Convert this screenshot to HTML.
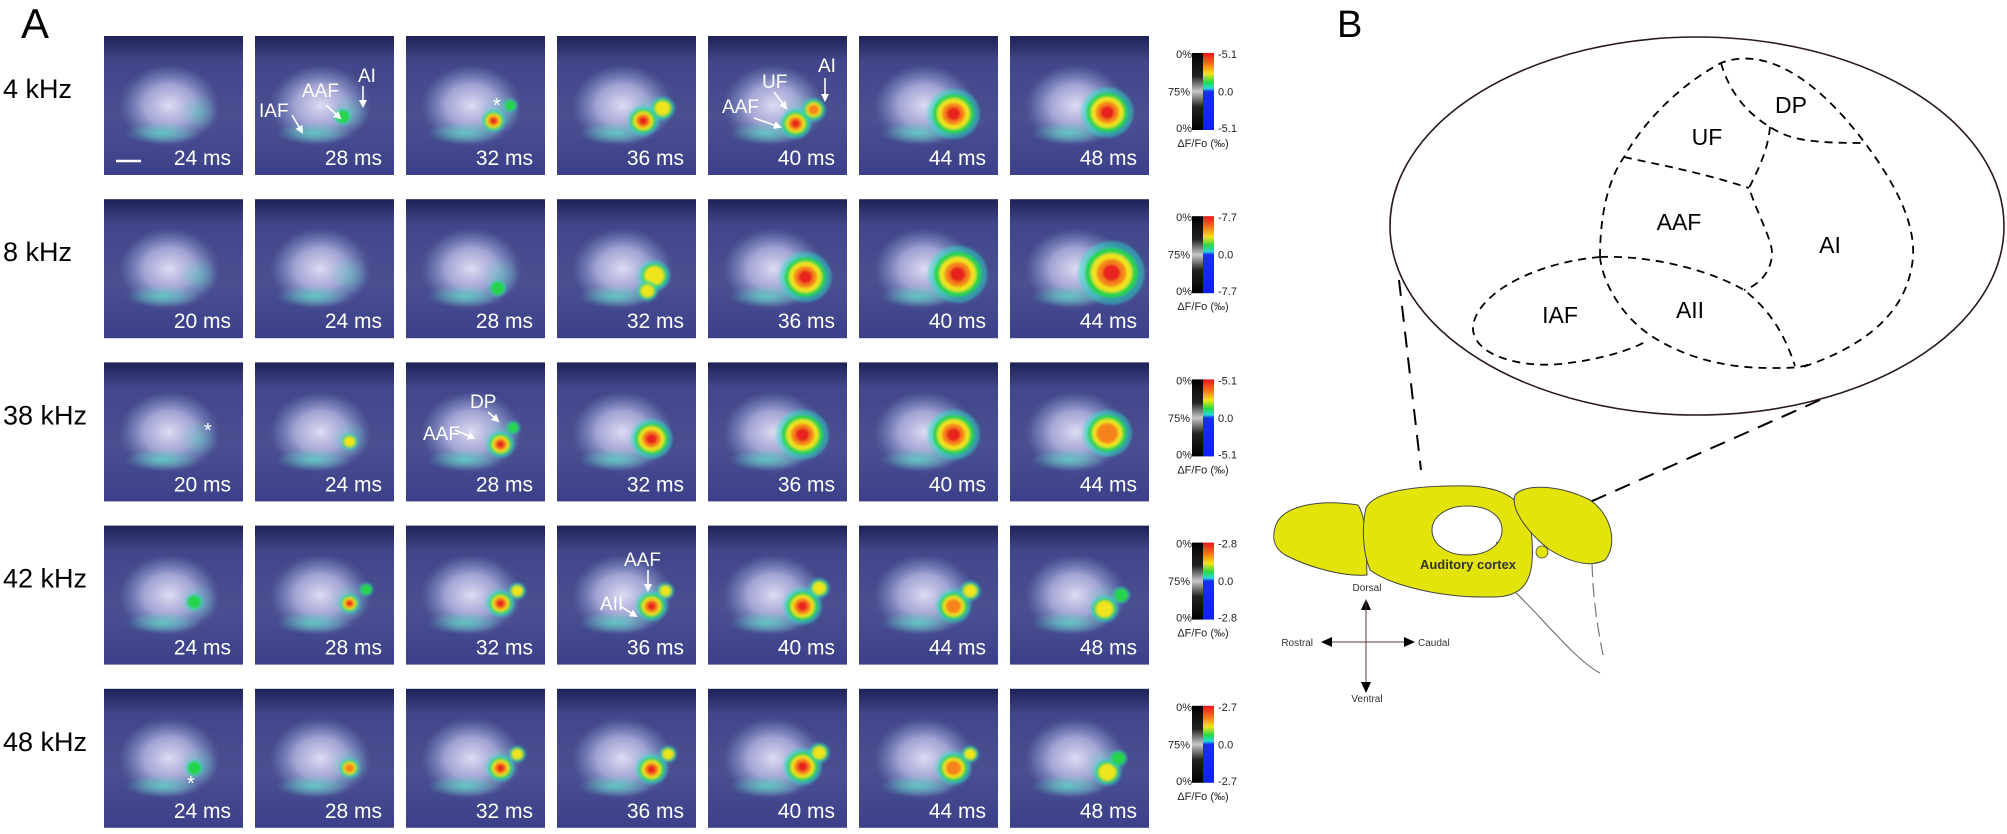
<!DOCTYPE html>
<html><head><meta charset="utf-8">
<style>
html,body{margin:0;padding:0;background:#fff;}
svg{display:block;font-family:"Liberation Sans","DejaVu Sans",sans-serif;}
</style></head>
<body>
<svg id="fig" width="2007" height="834" viewBox="0 0 2007 834" xmlns="http://www.w3.org/2000/svg">
<defs>
  <linearGradient id="tileBg" x1="0" y1="0" x2="0" y2="1">
    <stop offset="0" stop-color="#1d2256"/>
    <stop offset="0.18" stop-color="#41468a"/>
    <stop offset="0.6" stop-color="#4a4f92"/>
    <stop offset="1" stop-color="#3c4089"/>
  </linearGradient>
  <radialGradient id="glow" cx="0.5" cy="0.5" r="0.5">
    <stop offset="0" stop-color="#e6e4f8" stop-opacity="0.95"/>
    <stop offset="0.5" stop-color="#c0c0ea" stop-opacity="0.75"/>
    <stop offset="0.8" stop-color="#8fa0d0" stop-opacity="0.35"/>
    <stop offset="1" stop-color="#6a6fb0" stop-opacity="0"/>
  </radialGradient>
  <radialGradient id="cyanGlow" cx="0.5" cy="0.5" r="0.5">
    <stop offset="0" stop-color="#5fd6c6" stop-opacity="0.8"/>
    <stop offset="1" stop-color="#5fd6c6" stop-opacity="0"/>
  </radialGradient>
  <filter id="soft" x="-50%" y="-50%" width="200%" height="200%"><feGaussianBlur stdDeviation="1.3"/></filter>
  <linearGradient id="cbGray" x1="0" y1="0" x2="0" y2="1">
    <stop offset="0" stop-color="#000"/><stop offset="0.3" stop-color="#222"/>
    <stop offset="0.5" stop-color="#c8c8c8"/><stop offset="0.7" stop-color="#222"/><stop offset="1" stop-color="#000"/>
  </linearGradient>
  <linearGradient id="cbColor" x1="0" y1="0" x2="0" y2="1">
    <stop offset="0" stop-color="#e8141c"/><stop offset="0.15" stop-color="#f47a1c"/>
    <stop offset="0.27" stop-color="#f5e41c"/><stop offset="0.38" stop-color="#28d848"/>
    <stop offset="0.46" stop-color="#2ad8d8"/><stop offset="0.5" stop-color="#1830f0"/>
    <stop offset="1" stop-color="#1020f0"/>
  </linearGradient>
  <marker id="arrW" markerWidth="8" markerHeight="8" refX="6" refY="4" orient="auto" markerUnits="userSpaceOnUse">
    <path d="M0,0 L8,4 L0,8 Z" fill="#fff"/>
  </marker>
  <marker id="arrK" markerWidth="12" markerHeight="12" refX="10" refY="6" orient="auto" markerUnits="userSpaceOnUse">
    <path d="M0,1 L11,6 L0,11 Z" fill="#000"/>
  </marker>
</defs>

<text x="21" y="38" font-size="42" fill="#000">A</text>
<text x="1337" y="37" font-size="38" fill="#000">B</text>

<g id="tiles"></g>
<g id="bars"></g>

<g fill="none" stroke="#000">
  <ellipse cx="1697" cy="226" rx="307" ry="189" stroke="#2a1a1a" stroke-width="1.6"/>
  <g stroke-dasharray="8,6" stroke-width="1.8">
    <path d="M1600,257 C1600,215 1608,180 1624,157 C1645,120 1680,85 1721,63 C1760,48 1810,70 1865,143 C1900,190 1918,230 1912,265 C1905,310 1870,345 1800,368"/>
    <path d="M1721,63 C1730,95 1750,115 1770,127 C1790,140 1810,143 1865,143"/>
    <path d="M1770,127 C1768,150 1758,170 1749,188 C1758,215 1772,240 1772,253 C1772,270 1760,285 1744,290"/>
    <path d="M1624,157 C1660,165 1700,172 1749,188"/>
    <path d="M1600,257 C1602,280 1620,315 1650,335 C1680,355 1720,368 1770,368 C1790,368 1800,368 1810,364"/>
    <path d="M1600,257 C1650,255 1710,270 1744,290 C1770,310 1785,335 1795,366"/>
    <path d="M1600,257 C1540,262 1480,290 1473,325 C1470,355 1520,368 1560,364 C1600,360 1630,350 1645,342"/>
  </g>
  <g stroke-dasharray="16,10" stroke-width="2">
    <path d="M1399,280 L1421,470"/>
    <path d="M1820,400 L1493,545"/>
  </g>
  <g fill="#000" stroke="none" font-size="23">
    <text x="1791" y="113" text-anchor="middle">DP</text>
    <text x="1707" y="145" text-anchor="middle">UF</text>
    <text x="1679" y="230" text-anchor="middle">AAF</text>
    <text x="1830" y="253" text-anchor="middle">AI</text>
    <text x="1560" y="323" text-anchor="middle">IAF</text>
    <text x="1690" y="318" text-anchor="middle">AII</text>
  </g>
</g>

<g>
  <path d="M1275,528 C1280,505 1320,499 1358,505 C1368,520 1366,555 1367,575 C1345,577 1310,568 1285,555 C1274,548 1272,538 1275,528 Z" fill="#e2e40a" stroke="#444" stroke-width="1"/>
  <path d="M1366,508 C1375,490 1420,485 1470,486 C1510,488 1530,505 1532,540 C1535,580 1525,598 1490,597 C1440,598 1390,585 1370,570 C1362,550 1362,525 1366,508 Z M1467,506 C1445,506 1432,518 1432,530 C1432,545 1448,555 1467,555 C1490,555 1502,543 1502,530 C1502,517 1490,506 1467,506 Z" fill="#e2e40a" fill-rule="evenodd" stroke="#444" stroke-width="1"/>
  <path d="M1515,495 C1525,483 1560,485 1590,500 C1612,515 1618,545 1605,560 C1590,568 1570,562 1550,550 C1530,535 1510,510 1515,495 Z" fill="#e2e40a" stroke="#444" stroke-width="1"/>
  <ellipse cx="1542" cy="552" rx="6" ry="6" fill="#e2e40a" stroke="#444" stroke-width="0.8"/>
  <path d="M1515,592 C1540,615 1575,660 1600,673" fill="none" stroke="#777" stroke-width="1.2"/>
  <path d="M1592,563 C1593,600 1598,630 1603,655" fill="none" stroke="#777" stroke-width="1.2" stroke-dasharray="14,6"/>
  <text x="1468" y="569" text-anchor="middle" font-size="13" font-weight="bold" fill="#333">Auditory cortex</text>
  <g stroke="#5a3a3a" stroke-width="1" fill="none">
    <path d="M1366,690 L1366,600" marker-end="url(#arrK)"/>
    <path d="M1366,600 L1366,692" marker-end="url(#arrK)"/>
    <path d="M1366,642 L1322,642" marker-end="url(#arrK)"/>
    <path d="M1366,642 L1414,642" marker-end="url(#arrK)"/>
  </g>
  <g font-size="10" fill="#333">
    <text x="1367" y="591" text-anchor="middle">Dorsal</text>
    <text x="1313" y="646" text-anchor="end">Rostral</text>
    <text x="1418" y="646">Caudal</text>
    <text x="1367" y="702" text-anchor="middle">Ventral</text>
  </g>
</g>

<script>
const rowLabels = ["4 kHz","8 kHz","38 kHz","42 kHz","48 kHz"];
const rowTimes = [
  [24,28,32,36,40,44,48],
  [20,24,28,32,36,40,44],
  [20,24,28,32,36,40,44],
  [24,28,32,36,40,44,48],
  [24,28,32,36,40,44,48]
];
const barMax = ["5.1","7.7","5.1","2.8","2.7"];
// blobs per tile: [x-frac, y-frac, radius-frac, level 1=green 2=yellow 3=orange 4=red]
const blobs4k = [[],[[0.63,0.58,0.05,1]],[[0.63,0.61,0.07,4],[0.75,0.5,0.04,1]],[[0.62,0.61,0.09,4],[0.76,0.52,0.07,2]],[[0.63,0.63,0.09,4],[0.76,0.53,0.07,3]],[[0.68,0.56,0.15,4]],[[0.7,0.55,0.15,4]]];
const blobs8k = [[],[],[[0.66,0.64,0.05,1]],[[0.7,0.55,0.09,2],[0.65,0.66,0.06,2]],[[0.7,0.56,0.15,4]],[[0.71,0.54,0.17,4]],[[0.73,0.53,0.19,4]]];
const blobs38k = [[],[[0.68,0.57,0.05,2]],[[0.68,0.59,0.08,4],[0.77,0.47,0.04,1]],[[0.68,0.55,0.12,4]],[[0.68,0.52,0.15,4]],[[0.68,0.52,0.15,4]],[[0.7,0.51,0.14,3]]];
const blobs42k = [[[0.65,0.55,0.05,1]],[[0.68,0.56,0.06,4],[0.8,0.46,0.04,1]],[[0.68,0.56,0.08,4],[0.8,0.47,0.05,2]],[[0.68,0.58,0.09,4],[0.78,0.47,0.05,2]],[[0.68,0.58,0.11,4],[0.8,0.45,0.06,2]],[[0.68,0.58,0.1,3],[0.8,0.47,0.06,2]],[[0.68,0.6,0.08,2],[0.8,0.5,0.05,1]]];
const blobs48k = [[[0.65,0.57,0.05,1]],[[0.68,0.57,0.06,3]],[[0.68,0.57,0.08,4],[0.8,0.47,0.05,2]],[[0.68,0.58,0.09,4],[0.8,0.47,0.05,2]],[[0.68,0.56,0.11,4],[0.8,0.46,0.06,2]],[[0.68,0.57,0.1,3],[0.8,0.47,0.05,2]],[[0.7,0.6,0.08,2],[0.78,0.5,0.05,1]]];
const allBlobs = [blobs4k, blobs8k, blobs38k, blobs42k, blobs48k];

const NS = "http://www.w3.org/2000/svg";
const colX = c => 104 + c * 151;
const rowY = r => 36 + r * 163.2;
const TS = 139;
function mk(tag, attrs, parent){ const e=document.createElementNS(NS,tag); for(const k in attrs) e.setAttribute(k,attrs[k]); parent.appendChild(e); return e; }

const tilesG = document.getElementById('tiles');
const levelCols = ["#2ee0c8","#26d44a","#f0e41e","#f5821e","#e8201c"];
rowLabels.forEach((lab, r) => {
  const t = mk('text',{x:3,y:rowY(r)+62,'font-size':27,fill:'#000'},tilesG);
  t.textContent = lab;
  
  
  rowTimes[r].forEach((ms, c) => {
    const x = colX(c), y = rowY(r);
    const g = mk('g',{},tilesG);
    
    
    mk('rect',{x:x,y:y,width:TS,height:TS,fill:'url(#tileBg)'},g);
    mk('ellipse',{cx:x+TS*0.47,cy:y+TS*0.5,rx:TS*0.37,ry:TS*0.3,fill:'url(#glow)'},g);
    mk('ellipse',{cx:x+TS*0.42,cy:y+TS*0.7,rx:TS*0.27,ry:TS*0.08,fill:'url(#cyanGlow)'},g);
    mk('ellipse',{cx:x+TS*0.68,cy:y+TS*0.55,rx:TS*0.14,ry:TS*0.14,fill:'url(#cyanGlow)',opacity:0.6},g);
    allBlobs[r][c].forEach(b => {
      const bx = x + b[0]*TS, by = y + b[1]*TS, br = b[2]*TS;
      const bg = mk('g',{filter:'url(#soft)'},g);
      
      
      mk('ellipse',{cx:bx,cy:by,rx:br*1.25,ry:br*1.2,fill:levelCols[0],opacity:0.5},bg);
      for(let l=1;l<=b[3];l++){
        const f = 1 - (l-1)*0.22;
        mk('ellipse',{cx:bx,cy:by,rx:br*f,ry:br*f*0.95,fill:levelCols[l]},bg);
      }
    });
    const tt = mk('text',{x:x+TS-12,y:y+TS-10,'text-anchor':'end','font-size':21,fill:'#fff'},g);
    tt.textContent = ms + ' ms';
    
    
  });
});

const ann = document.createElementNS(NS,'g');


tilesG.appendChild(ann);
function lbl(txt,x,y,size){ const t=mk('text',{x:x,y:y,'font-size':size||19,fill:'#fff'},ann); t.textContent=txt;
  
   }
function arr(x1,y1,x2,y2){ mk('line',{x1:x1,y1:y1,x2:x2,y2:y2,stroke:'#fff','stroke-width':1.6,'marker-end':'url(#arrW)'},ann); }
mk('line',{x1:116,y1:161,x2:141,y2:161,stroke:'#fff','stroke-width':2.5},ann);
// row1 tile2
lbl('IAF',259,117); arr(292,115,302,132);
lbl('AAF',302,97); arr(326,105,340,118);
lbl('AI',358,82); arr(363,86,363,106);
// row1 tile3 asterisk
lbl('*',493,112,20);
// row1 tile5
lbl('AAF',722,113); arr(754,118,780,127);
lbl('UF',762,88); arr(774,92,786,108);
lbl('AI',818,72); arr(825,78,825,100);
// row3 tile1
lbl('*',204,437,20);
// row3 tile3
lbl('AAF',423,440); arr(455,430,474,438);
lbl('DP',470,408); arr(488,412,498,421);
// row4 tile4
lbl('AAF',624,566); arr(648,570,648,590);
lbl('AII',600,610); arr(620,606,636,616);
// row5 tile1
lbl('*',187,790,20);

const barsG = document.getElementById('bars');
barMax.forEach((v, r) => {
  const y0 = rowY(r) + 17, h = 77, x0 = 1192;
  const g = mk('g',{},barsG);
  
  
  mk('rect',{x:x0,y:y0,width:11,height:h,fill:'url(#cbGray)'},g);
  mk('rect',{x:x0+11,y:y0,width:11,height:h,fill:'url(#cbColor)'},g);
  const tx = (s,x,y,a)=>{ const t=mk('text',{x:x,y:y,'font-size':11,fill:'#222','text-anchor':a},g); t.textContent=s; };
  tx('0%',x0,y0+5,'end'); tx('75%',x0-2,y0+h/2+4,'end'); tx('0%',x0,y0+h+2,'end');
  tx('-'+v,x0+26,y0+5,'start'); tx('0.0',x0+26,y0+h/2+4,'start'); tx('-'+v,x0+26,y0+h+2,'start');
  tx('ΔF/Fo (‰)',x0+11,y0+h+17,'middle');
});
</script>
</svg>
</body></html>
